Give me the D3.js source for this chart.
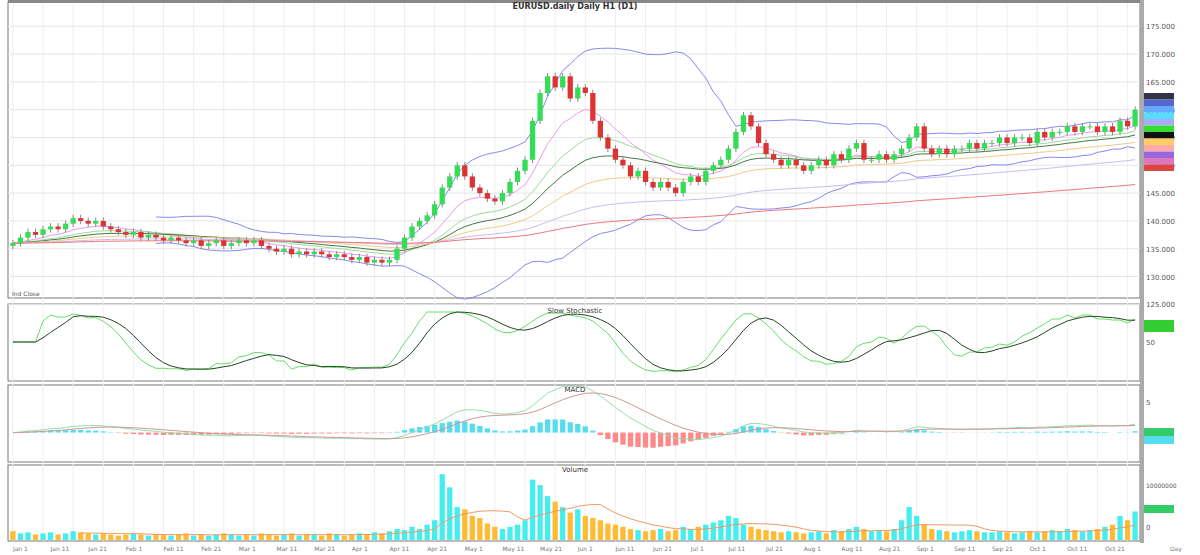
<!DOCTYPE html>
<html><head><meta charset="utf-8">
<script src="https://cdn.jsdelivr.net/npm/d3@7"></script>
<style>body{margin:0;background:#fff;font-family:"DejaVu Sans",sans-serif}</style>
</head><body><svg id="c" width="1200" height="555"></svg>
<script>
const closes=[136,137,138,137.5,138.5,139,138.5,139.5,140.5,140,
139.5,140,139,138.5,138,137.5,138,137,137.5,137,
136.5,137,136.5,136,136.5,135.5,136,136.5,135.5,136,
136.5,136,136.5,135.5,135,134.5,135,134,134.5,134,
134.5,134,133.5,134,133.5,133,133.5,132.5,133,132.5,
133,135,137,139,140,141,143,146,148,150,
148,146,145,144,143.5,145,147,149,151,158,
163,166,164,166,162,164,163,158,155,153,
151,150,148,149,147,146,147,146,145,147,
148,147,149,150,151,153,156,159,157,154,
152,151,150,151,150,149,150,151,150,152,
151,153,154,151,151,152,151,152,153,155,
157,153,152,153,152,153,153,154,153,154,
154,155,154,155,155,154,156,155,156,156,
157,156,157,157,156,157,156,158,157,160];
const volumes=[8,6,7,5,6,7,5,6,8,7,
6,5,6,5,4,5,6,5,4,5,
5,4,5,6,4,5,4,5,6,5,
4,5,4,6,5,4,5,6,4,5,
5,4,6,5,4,5,6,5,7,6,
8,10,9,12,10,14,18,60,48,30,
28,22,20,15,12,10,12,14,18,55,
50,40,35,30,25,28,22,20,18,15,
14,12,10,9,8,9,10,8,9,12,
10,12,14,16,18,22,20,14,12,10,
9,8,7,8,7,6,7,8,6,9,
8,10,12,10,8,9,8,10,18,30,
22,14,10,9,8,7,8,9,8,7,
7,8,7,6,7,8,7,8,9,8,
10,9,8,9,10,12,14,22,18,26];
const priceTicks=[175,170,165,160,155,150,145,140,135,130,125];
const monthLabels=["Jan","Feb","Mar","Apr","May","Jun","Jul","Aug","Sep","Oct","Nov","Dec"];
const title="EURUSD.daily  Daily  H1  (D1)";

const svg=d3.select("#c");
const L=8,R=1140;
const n=closes.length;
const x=d3.scaleBand().domain(d3.range(n)).range([L,R]).padding(0.3);
const xc=i=>x(i)+x.bandwidth()/2;
const panels={main:[2,298],stoch:[304,381],macd:[385,462],vol:[465,541]};
Object.values(panels).forEach(([a,b])=>{
  svg.append("rect").attr("x",L).attr("y",a).attr("width",R-L).attr("height",b-a).attr("fill","#fff").attr("stroke","#777");
});
svg.append("rect").attr("x",L).attr("y",0).attr("width",R-L).attr("height",3).attr("fill","#888");
svg.append("rect").attr("x",R).attr("y",0).attr("width",4).attr("height",543).attr("fill","#aaa");
for(let i=0;i<n;i+=4){svg.append("line").attr("x1",xc(i)).attr("x2",xc(i)).attr("y1",3).attr("y2",541).attr("stroke","#eee");}
const y=d3.scaleLinear().domain([126.5,179]).range([296,4]);
priceTicks.forEach(t=>{svg.append("line").attr("x1",L).attr("x2",R).attr("y1",y(t)).attr("y2",y(t)).attr("stroke","#e6e6e6");
 svg.append("text").attr("x",R+6).attr("y",y(t)+3).attr("font-size",7).attr("fill","#555").text(t.toFixed(3));});
svg.append("text").attr("x",575).attr("y",9).attr("text-anchor","middle").attr("font-size",8).attr("fill","#333").attr("font-weight","bold").text(title);
const sma=(a,p)=>a.map((_,i)=>i<p-1?null:d3.mean(a.slice(i-p+1,i+1)));
const ema=(a,p)=>{const k=2/(p+1);let e=a[0];return a.map(v=>e=v*k+e*(1-k));};
const sd=(a,p)=>a.map((_,i)=>i<p-1?null:d3.deviation(a.slice(i-p+1,i+1)));
const line=(arr,col,sc,w=1)=>svg.append("path").datum(arr).attr("fill","none").attr("stroke",col).attr("stroke-width",w)
 .attr("d",d3.line().defined(d=>d!=null).x((d,i)=>xc(i)).y(d=>sc(d)));
const m20=sma(closes,20),s20=sd(closes,20);
line(m20.map((m,i)=>m==null?null:m+2*s20[i]),"#8888ee",y);
line(m20.map((m,i)=>m==null?null:m-2*s20[i]),"#8888ee",y);
line(ema(closes,10),"#ee99ee",y);
line(ema(closes,20),"#99dd99",y);
line(ema(closes,30),"#447744",y);
line(ema(closes,50),"#eecc88",y);
line(ema(closes,100),"#ccbbee",y);
line(ema(closes,200),"#ee7777",y);
closes.forEach((c,i)=>{const o=i?closes[i-1]:c-0.5;const up=c>=o;const col=up?"#33dd55":"#dd3333";
 const hi=Math.max(o,c)+0.6,lo=Math.min(o,c)-0.6;
 svg.append("line").attr("x1",xc(i)).attr("x2",xc(i)).attr("y1",y(hi)).attr("y2",y(lo)).attr("stroke","#888");
 svg.append("rect").attr("x",x(i)).attr("width",x.bandwidth()).attr("y",y(Math.max(o,c))).attr("height",Math.max(1,Math.abs(y(o)-y(c)))).attr("fill",col);});
const bcols=["#333344","#5566cc","#66aaff","#55ddff","#aaaaff","#33dd33","#111111","#ffcc66","#ffaaaa","#9966dd","#dd77bb","#dd4444"];
bcols.forEach((c,i)=>svg.append("rect").attr("x",R+4).attr("y",93+i*6.5).attr("width",30).attr("height",6.5).attr("fill",c));
svg.append("text").attr("x",12).attr("y",296).attr("font-size",6).attr("fill","#555").text("Ind  Close");
const ys=d3.scaleLinear().domain([0,100]).range([372,312]);
const K=closes.map((c,i)=>{const w=closes.slice(Math.max(0,i-13),i+1);const h=d3.max(w),l=d3.min(w);return h==l?50:(c-l)/(h-l)*100;});
const Ks=sma(K,5).map(v=>v==null?50:v),Ds=sma(Ks,5).map(v=>v==null?50:v);
line(Ks,"#66dd66",ys);line(Ds,"#224422",ys);
svg.append("text").attr("x",575).attr("y",313).attr("text-anchor","middle").attr("font-size",7).attr("fill","#333").text("Slow  Stochastic");
svg.append("rect").attr("x",R+4).attr("y",320).attr("width",30).attr("height",12).attr("fill","#33cc33");
svg.append("text").attr("x",R+6).attr("y",345).attr("font-size",7).attr("fill","#555").text("50");
const macd=ema(closes,12).map((v,i)=>v-ema(closes,26)[i]);const sig=ema(macd,9);
const ym=d3.scaleLinear().domain([-4,6.5]).range([460,388]);
macd.forEach((m,i)=>{const h=m-sig[i];svg.append("rect").attr("x",x(i)).attr("width",x.bandwidth()).attr("y",ym(Math.max(0,h))).attr("height",Math.abs(ym(h)-ym(0))).attr("fill",h>=0?"#55ddee":"#ff8888");});
line(macd,"#99ddaa",ym);line(sig,"#cc9999",ym);
svg.append("text").attr("x",575).attr("y",392).attr("text-anchor","middle").attr("font-size",7).attr("fill","#333").text("MACD");
svg.append("text").attr("x",R+6).attr("y",405).attr("font-size",7).attr("fill","#555").text("5");
[["#33cc66",428],["#55ddee",436]].forEach(([c,yy])=>svg.append("rect").attr("x",R+4).attr("y",yy).attr("width",30).attr("height",8).attr("fill",c));
const yv=d3.scaleLinear().domain([0,62]).range([540,472]);
volumes.forEach((v,i)=>svg.append("rect").attr("x",x(i)).attr("width",x.bandwidth()).attr("y",yv(v)).attr("height",540-yv(v)).attr("fill",(i&&closes[i]>=closes[i-1])?"#44eeee":"#ffbb33"));
line(sma(volumes,10),"#ee9966",yv);
svg.append("text").attr("x",575).attr("y",472).attr("text-anchor","middle").attr("font-size",7).attr("fill","#333").text("Volume");
svg.append("rect").attr("x",R+4).attr("y",505).attr("width",30).attr("height",8).attr("fill","#33cc66");
svg.append("text").attr("x",R+6).attr("y",488).attr("font-size",6).attr("fill","#555").text("10000000");
svg.append("text").attr("x",R+6).attr("y",530).attr("font-size",7).attr("fill","#555").text("0");
for(let i=0,k=0;i<n;i+=5,k++){svg.append("text").attr("x",xc(i)).attr("y",551).attr("font-size",6).attr("fill","#777").text(monthLabels[Math.floor(k/3)%12]+" "+(1+(k%3)*10));}
svg.append("text").attr("x",1170).attr("y",551).attr("font-size",6).attr("fill","#777").text("Day");
</script></body></html>
